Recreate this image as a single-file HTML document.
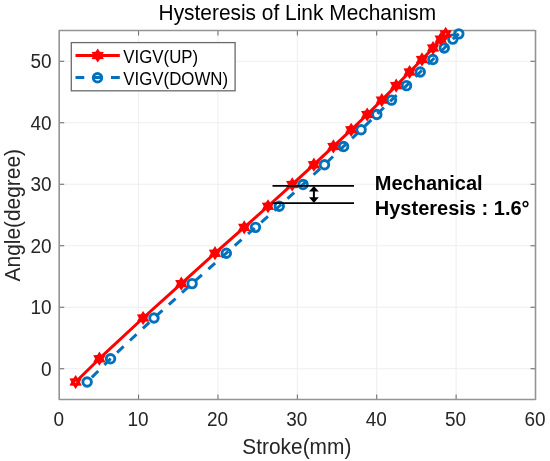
<!DOCTYPE html><html><head><meta charset="utf-8"><style>html,body{margin:0;padding:0;background:#fff;}svg{display:block;}text{font-family:"Liberation Sans",Arial,sans-serif;}</style></head><body>
<svg width="550" height="461" viewBox="0 0 550 461">
<rect width="550" height="461" fill="#fff"/>
<path d="M138.58 30.5V399.5M217.97 30.5V399.5M297.35 30.5V399.5M376.73 30.5V399.5M456.12 30.5V399.5M59.2 368.75H535.5M59.2 307.25H535.5M59.2 245.75H535.5M59.2 184.25H535.5M59.2 122.75H535.5M59.2 61.25H535.5" stroke="#eeeeee" stroke-width="1" fill="none"/>
<path d="M138.58 399.5v-5M138.58 30.5v5M217.97 399.5v-5M217.97 30.5v5M297.35 399.5v-5M297.35 30.5v5M376.73 399.5v-5M376.73 30.5v5M456.12 399.5v-5M456.12 30.5v5M59.2 368.75h5M535.5 368.75h-5M59.2 307.25h5M535.5 307.25h-5M59.2 245.75h5M535.5 245.75h-5M59.2 184.25h5M535.5 184.25h-5M59.2 122.75h5M535.5 122.75h-5M59.2 61.25h5M535.5 61.25h-5" stroke="#666666" stroke-width="1" fill="none"/>
<path d="M59.2 30.5H535.5M59.2 399.5H535.5M59.2 30.0V400.0M535.5 30.0V400.0" stroke="#949494" stroke-width="1.6" fill="none"/>
<text transform="translate(58.70 425.60) scale(1 1.075)" font-size="19" fill="#262626" text-anchor="middle">0</text>
<text transform="translate(138.08 425.60) scale(1 1.075)" font-size="19" fill="#262626" text-anchor="middle">10</text>
<text transform="translate(217.47 425.60) scale(1 1.075)" font-size="19" fill="#262626" text-anchor="middle">20</text>
<text transform="translate(296.85 425.60) scale(1 1.075)" font-size="19" fill="#262626" text-anchor="middle">30</text>
<text transform="translate(376.23 425.60) scale(1 1.075)" font-size="19" fill="#262626" text-anchor="middle">40</text>
<text transform="translate(455.62 425.60) scale(1 1.075)" font-size="19" fill="#262626" text-anchor="middle">50</text>
<text transform="translate(535.00 425.60) scale(1 1.075)" font-size="19" fill="#262626" text-anchor="middle">60</text>
<text transform="translate(51.60 375.65) scale(1 1.075)" font-size="19" fill="#262626" text-anchor="end">0</text>
<text transform="translate(51.60 314.15) scale(1 1.075)" font-size="19" fill="#262626" text-anchor="end">10</text>
<text transform="translate(51.60 252.65) scale(1 1.075)" font-size="19" fill="#262626" text-anchor="end">20</text>
<text transform="translate(51.60 191.15) scale(1 1.075)" font-size="19" fill="#262626" text-anchor="end">30</text>
<text transform="translate(51.60 129.65) scale(1 1.075)" font-size="19" fill="#262626" text-anchor="end">40</text>
<text transform="translate(51.60 68.15) scale(1 1.075)" font-size="19" fill="#262626" text-anchor="end">50</text>
<text transform="translate(297.30 20.00) scale(1 1.075)" font-size="20.9" fill="#000" text-anchor="middle">Hysteresis of Link Mechanism</text>
<text transform="translate(296.80 454.40) scale(1 1.075)" font-size="20.9" fill="#262626" text-anchor="middle">Stroke(mm)</text>
<text transform="translate(20.30 215.20) rotate(-90) scale(1 1.075)" font-size="20.9" fill="#262626" text-anchor="middle">Angle(degree)</text>
<path d="M87.15 382.00 L110.55 358.70 L154.00 318.00 L192.10 283.60 L226.30 253.20 L255.50 227.35 L279.25 206.25 L303.00 184.45 L324.50 164.70 L343.60 146.45 L361.10 129.80 L376.80 114.50 L391.50 100.10 L406.50 85.65 L420.25 72.00 L432.85 59.45 L444.30 48.00 L452.80 39.10 L458.80 33.85" stroke="#0072bd" stroke-width="3" fill="none" stroke-dasharray="9 8.67" stroke-dashoffset="11.07" stroke-linejoin="round"/>
<circle cx="87.15" cy="382.00" r="4.25" stroke="#0072bd" stroke-width="2.9" fill="none"/>
<circle cx="110.55" cy="358.70" r="4.25" stroke="#0072bd" stroke-width="2.9" fill="none"/>
<circle cx="154.00" cy="318.00" r="4.25" stroke="#0072bd" stroke-width="2.9" fill="none"/>
<circle cx="192.10" cy="283.60" r="4.25" stroke="#0072bd" stroke-width="2.9" fill="none"/>
<circle cx="226.30" cy="253.20" r="4.25" stroke="#0072bd" stroke-width="2.9" fill="none"/>
<circle cx="255.50" cy="227.35" r="4.25" stroke="#0072bd" stroke-width="2.9" fill="none"/>
<circle cx="279.25" cy="206.25" r="4.25" stroke="#0072bd" stroke-width="2.9" fill="none"/>
<circle cx="303.00" cy="184.45" r="4.25" stroke="#0072bd" stroke-width="2.9" fill="none"/>
<circle cx="324.50" cy="164.70" r="4.25" stroke="#0072bd" stroke-width="2.9" fill="none"/>
<circle cx="343.60" cy="146.45" r="4.25" stroke="#0072bd" stroke-width="2.9" fill="none"/>
<circle cx="361.10" cy="129.80" r="4.25" stroke="#0072bd" stroke-width="2.9" fill="none"/>
<circle cx="376.80" cy="114.50" r="4.25" stroke="#0072bd" stroke-width="2.9" fill="none"/>
<circle cx="391.50" cy="100.10" r="4.25" stroke="#0072bd" stroke-width="2.9" fill="none"/>
<circle cx="406.50" cy="85.65" r="4.25" stroke="#0072bd" stroke-width="2.9" fill="none"/>
<circle cx="420.25" cy="72.00" r="4.25" stroke="#0072bd" stroke-width="2.9" fill="none"/>
<circle cx="432.85" cy="59.45" r="4.25" stroke="#0072bd" stroke-width="2.9" fill="none"/>
<circle cx="444.30" cy="48.00" r="4.25" stroke="#0072bd" stroke-width="2.9" fill="none"/>
<circle cx="452.80" cy="39.10" r="4.25" stroke="#0072bd" stroke-width="2.9" fill="none"/>
<circle cx="458.80" cy="33.85" r="4.25" stroke="#0072bd" stroke-width="2.9" fill="none"/>
<path d="M75.60 382.00 L99.40 358.70 L143.10 318.00 L181.30 283.60 L215.00 253.20 L244.20 227.35 L268.00 206.25 L292.20 184.45 L313.90 164.70 L333.40 146.45 L351.20 129.80 L367.20 114.50 L381.80 100.10 L396.20 85.65 L409.60 72.00 L422.00 59.45 L433.05 48.00 L440.70 39.10 L445.70 33.85" stroke="#ff0000" stroke-width="3" fill="none" stroke-linejoin="round"/>
<polygon points="75.60,374.90 73.45,378.28 69.45,378.45 71.30,382.00 69.45,385.55 73.45,385.72 75.60,389.10 77.75,385.72 81.75,385.55 79.90,382.00 81.75,378.45 77.75,378.28" fill="#ff0000"/>
<polygon points="99.40,351.60 97.25,354.98 93.25,355.15 95.10,358.70 93.25,362.25 97.25,362.42 99.40,365.80 101.55,362.42 105.55,362.25 103.70,358.70 105.55,355.15 101.55,354.98" fill="#ff0000"/>
<polygon points="143.10,310.90 140.95,314.28 136.95,314.45 138.80,318.00 136.95,321.55 140.95,321.72 143.10,325.10 145.25,321.72 149.25,321.55 147.40,318.00 149.25,314.45 145.25,314.28" fill="#ff0000"/>
<polygon points="181.30,276.50 179.15,279.88 175.15,280.05 177.00,283.60 175.15,287.15 179.15,287.32 181.30,290.70 183.45,287.32 187.45,287.15 185.60,283.60 187.45,280.05 183.45,279.88" fill="#ff0000"/>
<polygon points="215.00,246.10 212.85,249.48 208.85,249.65 210.70,253.20 208.85,256.75 212.85,256.92 215.00,260.30 217.15,256.92 221.15,256.75 219.30,253.20 221.15,249.65 217.15,249.48" fill="#ff0000"/>
<polygon points="244.20,220.25 242.05,223.63 238.05,223.80 239.90,227.35 238.05,230.90 242.05,231.07 244.20,234.45 246.35,231.07 250.35,230.90 248.50,227.35 250.35,223.80 246.35,223.63" fill="#ff0000"/>
<polygon points="268.00,199.15 265.85,202.53 261.85,202.70 263.70,206.25 261.85,209.80 265.85,209.97 268.00,213.35 270.15,209.97 274.15,209.80 272.30,206.25 274.15,202.70 270.15,202.53" fill="#ff0000"/>
<polygon points="292.20,177.35 290.05,180.73 286.05,180.90 287.90,184.45 286.05,188.00 290.05,188.17 292.20,191.55 294.35,188.17 298.35,188.00 296.50,184.45 298.35,180.90 294.35,180.73" fill="#ff0000"/>
<polygon points="313.90,157.60 311.75,160.98 307.75,161.15 309.60,164.70 307.75,168.25 311.75,168.42 313.90,171.80 316.05,168.42 320.05,168.25 318.20,164.70 320.05,161.15 316.05,160.98" fill="#ff0000"/>
<polygon points="333.40,139.35 331.25,142.73 327.25,142.90 329.10,146.45 327.25,150.00 331.25,150.17 333.40,153.55 335.55,150.17 339.55,150.00 337.70,146.45 339.55,142.90 335.55,142.73" fill="#ff0000"/>
<polygon points="351.20,122.70 349.05,126.08 345.05,126.25 346.90,129.80 345.05,133.35 349.05,133.52 351.20,136.90 353.35,133.52 357.35,133.35 355.50,129.80 357.35,126.25 353.35,126.08" fill="#ff0000"/>
<polygon points="367.20,107.40 365.05,110.78 361.05,110.95 362.90,114.50 361.05,118.05 365.05,118.22 367.20,121.60 369.35,118.22 373.35,118.05 371.50,114.50 373.35,110.95 369.35,110.78" fill="#ff0000"/>
<polygon points="381.80,93.00 379.65,96.38 375.65,96.55 377.50,100.10 375.65,103.65 379.65,103.82 381.80,107.20 383.95,103.82 387.95,103.65 386.10,100.10 387.95,96.55 383.95,96.38" fill="#ff0000"/>
<polygon points="396.20,78.55 394.05,81.93 390.05,82.10 391.90,85.65 390.05,89.20 394.05,89.37 396.20,92.75 398.35,89.37 402.35,89.20 400.50,85.65 402.35,82.10 398.35,81.93" fill="#ff0000"/>
<polygon points="409.60,64.90 407.45,68.28 403.45,68.45 405.30,72.00 403.45,75.55 407.45,75.72 409.60,79.10 411.75,75.72 415.75,75.55 413.90,72.00 415.75,68.45 411.75,68.28" fill="#ff0000"/>
<polygon points="422.00,52.35 419.85,55.73 415.85,55.90 417.70,59.45 415.85,63.00 419.85,63.17 422.00,66.55 424.15,63.17 428.15,63.00 426.30,59.45 428.15,55.90 424.15,55.73" fill="#ff0000"/>
<polygon points="433.05,40.90 430.90,44.28 426.90,44.45 428.75,48.00 426.90,51.55 430.90,51.72 433.05,55.10 435.20,51.72 439.20,51.55 437.35,48.00 439.20,44.45 435.20,44.28" fill="#ff0000"/>
<polygon points="440.70,32.00 438.55,35.38 434.55,35.55 436.40,39.10 434.55,42.65 438.55,42.82 440.70,46.20 442.85,42.82 446.85,42.65 445.00,39.10 446.85,35.55 442.85,35.38" fill="#ff0000"/>
<polygon points="445.70,26.75 443.55,30.13 439.55,30.30 441.40,33.85 439.55,37.40 443.55,37.57 445.70,40.95 447.85,37.57 451.85,37.40 450.00,33.85 451.85,30.30 447.85,30.13" fill="#ff0000"/>
<circle cx="75.60" cy="382.20" r="0.7" fill="#ffc8c8"/>
<circle cx="445.70" cy="34.05" r="0.7" fill="#ffc8c8"/>
<path d="M272.5 185.8H354M272.5 203.2H354" stroke="#000" stroke-width="1.7" fill="none"/>
<path d="M313.9 190V199" stroke="#000" stroke-width="2" fill="none"/>
<polygon points="313.9,186 309,191.5 318.8,191.5" fill="#000"/>
<polygon points="313.9,203 309,197.3 318.8,197.3" fill="#000"/>
<text x="374.8" y="190" font-size="20" font-weight="bold" fill="#000">Mechanical</text>
<text x="374.8" y="214.5" font-size="20" font-weight="bold" fill="#000">Hysteresis : 1.6°</text>
<rect x="71.3" y="42.6" width="163.8" height="48.2" fill="#fff" stroke="#6a6a6a" stroke-width="1.3"/>
<path d="M75.5 55.5H119.8" stroke="#ff0000" stroke-width="3"/>
<polygon points="97.70,48.40 95.55,51.78 91.55,51.95 93.40,55.50 91.55,59.05 95.55,59.22 97.70,62.60 99.85,59.22 103.85,59.05 102.00,55.50 103.85,51.95 99.85,51.78" fill="#ff0000"/>
<path d="M75.5 77.6H119.8" stroke="#0072bd" stroke-width="3" stroke-dasharray="8.8 8.95"/>
<circle cx="97.5" cy="77.7" r="4.25" stroke="#0072bd" stroke-width="2.9" fill="none"/>
<text transform="translate(123.30 62.90) scale(1 1.075)" font-size="16.85" fill="#000">VIGV(UP)</text>
<text transform="translate(123.30 84.50) scale(1 1.075)" font-size="16.85" fill="#000">VIGV(DOWN)</text>
</svg></body></html>
